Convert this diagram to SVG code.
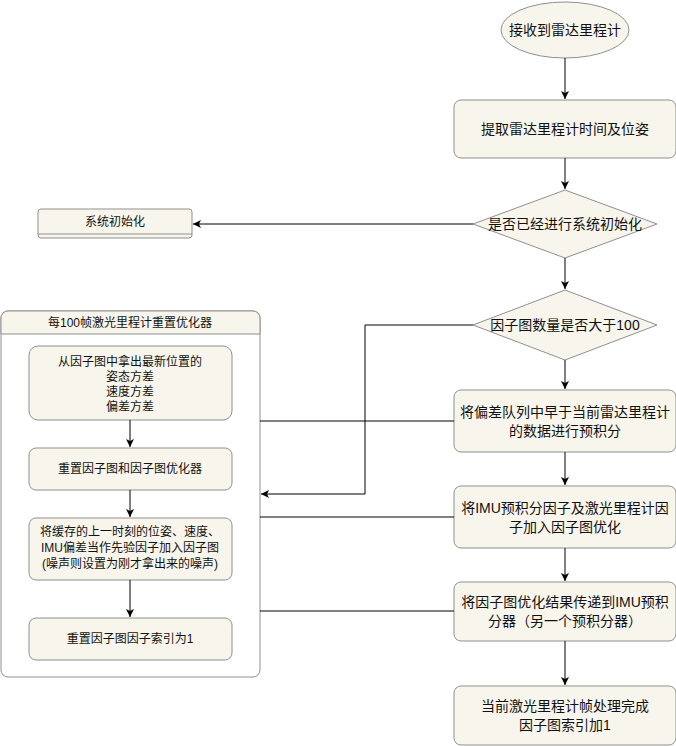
<svg xmlns="http://www.w3.org/2000/svg" width="676" height="746" viewBox="0 0 676 746">
<style>
.n{fill:#f8f6ec;stroke:#8f8f8f;stroke-width:1}
.t{font-family:"Liberation Sans","Noto Sans CJK SC",sans-serif;font-size:14px;fill:#111;text-anchor:middle}
.t.s{font-size:12px}
.c{fill:none;stroke:#000;stroke-width:1}
</style>
<defs><marker id="a" markerWidth="10" markerHeight="10" refX="8" refY="5" orient="auto" markerUnits="userSpaceOnUse"><path d="M0,1 L8,5 L0,9 L2,5 Z" fill="#000"/></marker></defs>
<rect width="676" height="746" fill="#fff"/>
<g id="panel">
<rect x="1" y="311" width="259" height="366" rx="7" fill="#fff" stroke="#8f8f8f"/>
<path d="M1,334 V318 a7,7 0 0 1 7,-7 H253 a7,7 0 0 1 7,7 V334 Z" fill="#f8f6ec" stroke="#8f8f8f"/>
<text class="t s" x="130" y="327">每100帧激光里程计重置优化器</text>
</g>
<g id="start"><ellipse class="n" cx="565" cy="30" rx="64" ry="28"/><text class="t" x="565" y="35">接收到雷达里程计</text></g>
<g id="b1"><rect class="n" x="454" y="100" width="222" height="58" rx="7"/><text class="t" x="565" y="134">提取雷达里程计时间及位姿</text></g>
<g id="d1"><path class="n" d="M565,190 L657,224 L565,258 L473,224 Z"/><text class="t" x="565" y="229">是否已经进行系统初始化</text></g>
<g id="init"><rect class="n" x="38" y="209" width="154" height="29" rx="3"/><line x1="38" y1="234" x2="192" y2="234" stroke="#8f8f8f"/><text class="t s" x="115" y="226">系统初始化</text></g>
<g id="d2"><path class="n" d="M565,290 L657,325 L565,360 L473,325 Z"/><text class="t" x="565" y="330">因子图数量是否大于100</text></g>
<g id="b2"><rect class="n" x="454" y="390" width="222" height="62" rx="7"/><text class="t" x="565" y="417">将偏差队列中早于当前雷达里程计</text><text class="t" x="565" y="436">的数据进行预积分</text></g>
<g id="b3"><rect class="n" x="454" y="486" width="222" height="62" rx="7"/><text class="t" x="565" y="513">将IMU预积分因子及激光里程计因</text><text class="t" x="565" y="532">子加入因子图优化</text></g>
<g id="b4"><rect class="n" x="454" y="582" width="222" height="59" rx="7"/><text class="t" x="565" y="607">将因子图优化结果传递到IMU预积</text><text class="t" x="565" y="626">分器（另一个预积分器）</text></g>
<g id="b5"><rect class="n" x="454" y="686" width="222" height="59" rx="7"/><text class="t" x="565" y="711">当前激光里程计帧处理完成</text><text class="t" x="565" y="730">因子图索引加1</text></g>
<g id="l1"><rect class="n" x="29" y="346" width="203" height="74" rx="9"/><text class="t s" x="130" y="366">从因子图中拿出最新位置的</text><text class="t s" x="130" y="381">姿态方差</text><text class="t s" x="130" y="396">速度方差</text><text class="t s" x="130" y="411">偏差方差</text></g>
<g id="l2"><rect class="n" x="29" y="448" width="203" height="42" rx="7"/><text class="t s" x="130" y="473">重置因子图和因子图优化器</text></g>
<g id="l3"><rect class="n" x="29" y="518" width="203" height="62" rx="7"/><text class="t s" x="130" y="536">将缓存的上一时刻的位姿、速度、</text><text class="t s" x="130" y="552">IMU偏差当作先验因子加入因子图</text><text class="t s" x="130" y="568">(噪声则设置为刚才拿出来的噪声)</text></g>
<g id="l4"><rect class="n" x="29" y="618" width="203" height="42" rx="7"/><text class="t s" x="130" y="643">重置因子图因子索引为1</text></g>
<g id="connectors">
<path class="c" d="M565,58 V99" marker-end="url(#a)"/>
<path class="c" d="M565,158 V189" marker-end="url(#a)"/>
<path class="c" d="M473,224 H193" marker-end="url(#a)"/>
<path class="c" d="M565,258 V289" marker-end="url(#a)"/>
<path class="c" d="M565,360 V389" marker-end="url(#a)"/>
<path class="c" d="M565,452 V485" marker-end="url(#a)"/>
<path class="c" d="M565,548 V581" marker-end="url(#a)"/>
<path class="c" d="M565,641 V685" marker-end="url(#a)"/>
<path class="c" d="M473,325 H365 V494 H261" marker-end="url(#a)"/>
<path class="c" d="M454,421 H260"/>
<path class="c" d="M454,517 H260"/>
<path class="c" d="M454,611 H260"/>
<path class="c" d="M130,420 V447" marker-end="url(#a)"/>
<path class="c" d="M130,490 V517" marker-end="url(#a)"/>
<path class="c" d="M130,580 V617" marker-end="url(#a)"/>
</g>
</svg>
